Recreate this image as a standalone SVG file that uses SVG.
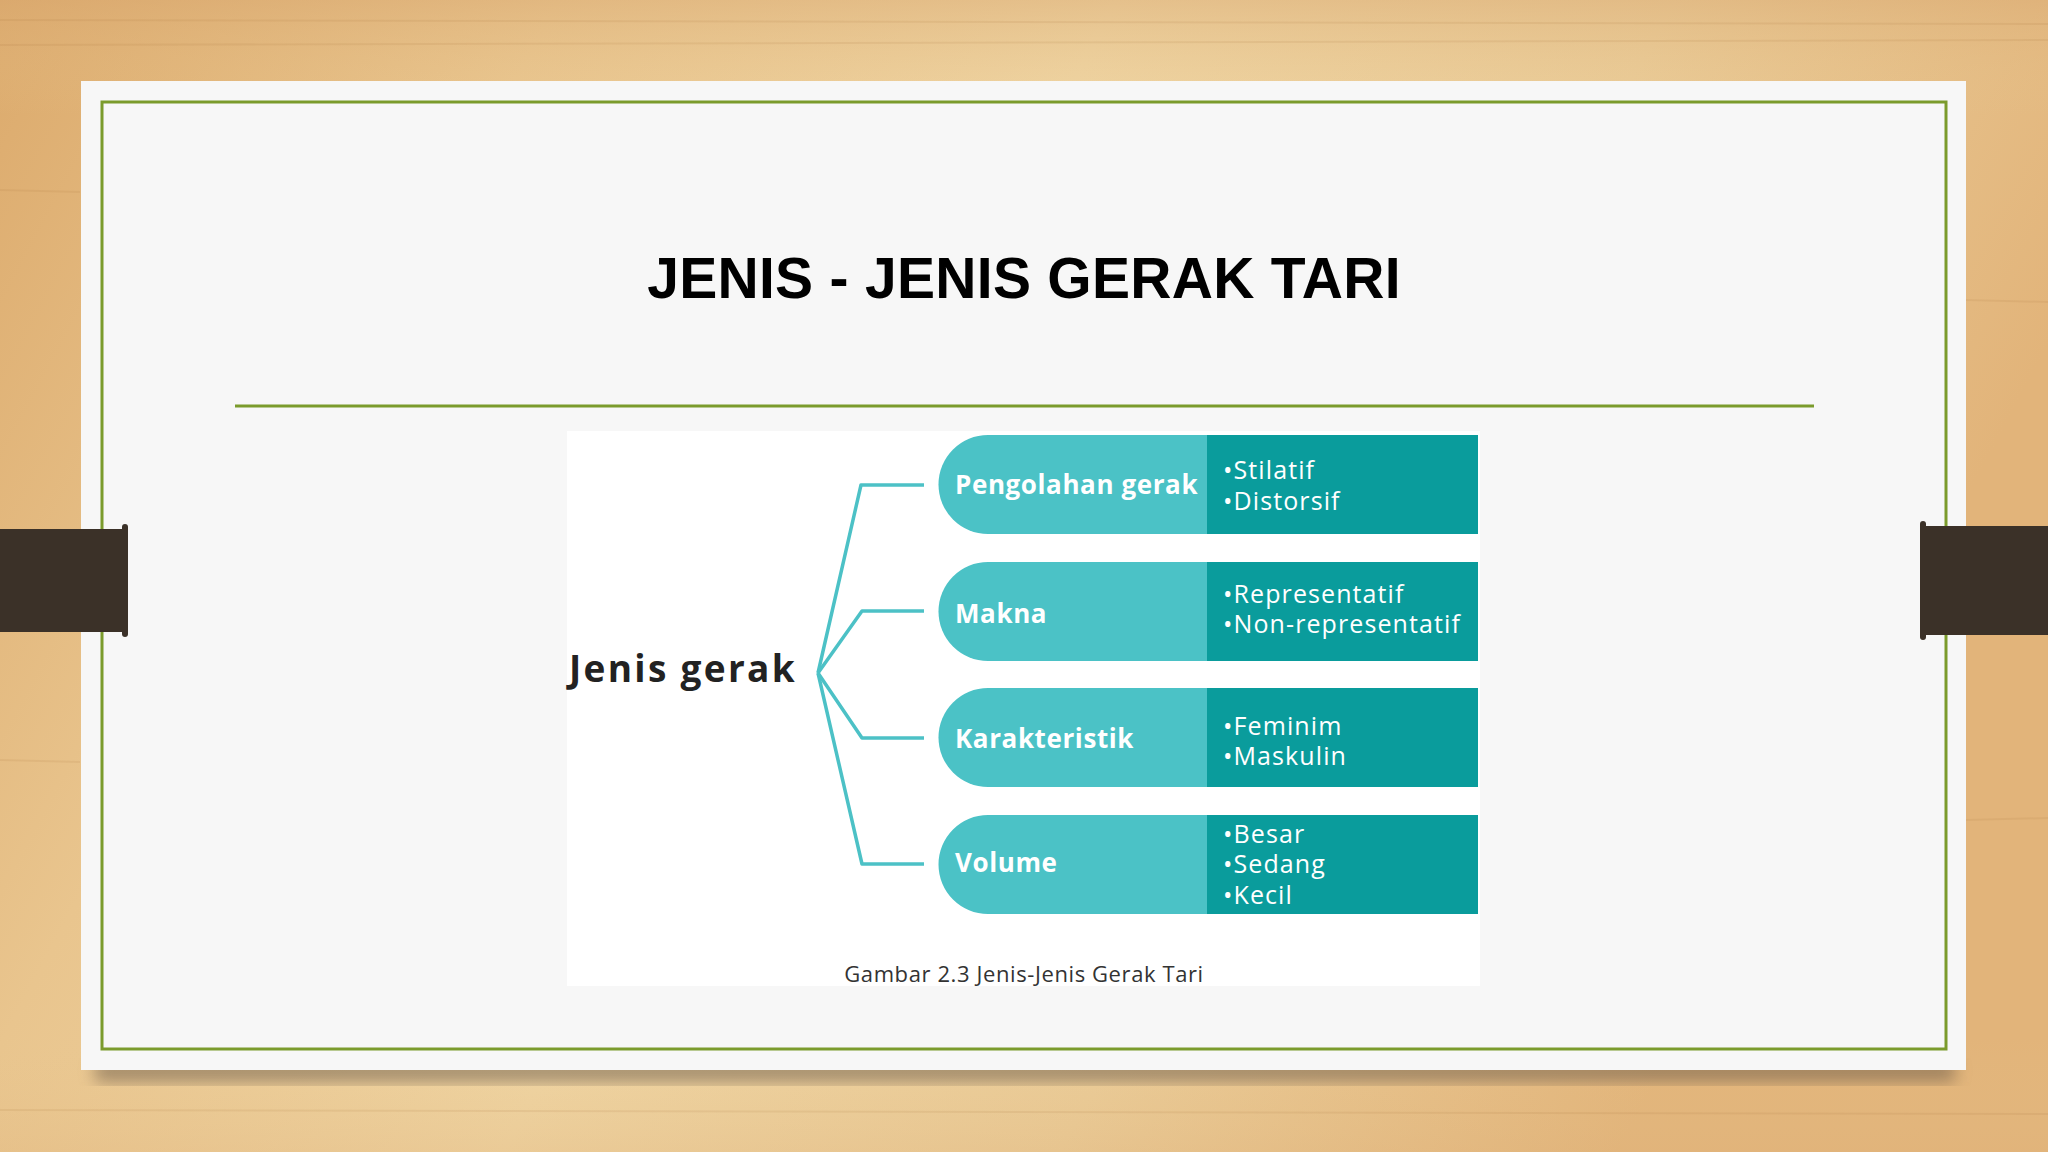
<svg xmlns="http://www.w3.org/2000/svg" width="2048" height="1152" viewBox="0 0 2048 1152">
<defs>
<linearGradient id="wood" x1="0" y1="0" x2="1" y2="0.3">
<stop offset="0" stop-color="#dcaa6c"/>
<stop offset="0.25" stop-color="#e9c58e"/>
<stop offset="0.5" stop-color="#efd4a2"/>
<stop offset="0.75" stop-color="#eacb97"/>
<stop offset="1" stop-color="#e2b47a"/>
</linearGradient>
<linearGradient id="woodv" x1="0" y1="0" x2="0" y2="1">
<stop offset="0" stop-color="#d9a870" stop-opacity="0.45"/>
<stop offset="0.1" stop-color="#e8c890" stop-opacity="0"/>
<stop offset="0.9" stop-color="#e8c890" stop-opacity="0"/>
<stop offset="1" stop-color="#e0b47c" stop-opacity="0.3"/>
</linearGradient>
<filter id="sh" x="-5%" y="-5%" width="110%" height="120%">
<feGaussianBlur stdDeviation="8"/>
</filter>
<style>
.tab{fill:#3b3128}
.border{fill:none;stroke:#7b9b2c;stroke-width:3}
.conn{fill:none;stroke:#4cc1c6;stroke-width:3.5;stroke-linejoin:round}
.pill{fill:#4bc2c6}
.box{fill:#0a9c9c}
.lbl{font-family:"Open Sans","DejaVu Sans",sans-serif;font-weight:700;font-size:26px;letter-spacing:0.6px;fill:#ffffff}
.item{font-family:"Open Sans","DejaVu Sans",sans-serif;font-size:25px;letter-spacing:1.1px;fill:#ffffff}
</style>
</defs>
<rect x="0" y="0" width="2048" height="1152" fill="url(#wood)"/>
<rect x="0" y="0" width="2048" height="1152" fill="url(#woodv)"/>
<g opacity="0.12" stroke="#a8743c" stroke-width="2">
<line x1="0" y1="20" x2="2048" y2="24"/>
<line x1="0" y1="45" x2="2048" y2="40"/>
<line x1="0" y1="190" x2="80" y2="192"/>
<line x1="0" y1="760" x2="80" y2="762"/>
<line x1="1966" y1="300" x2="2048" y2="302"/>
<line x1="1966" y1="820" x2="2048" y2="818"/>
<line x1="0" y1="1110" x2="2048" y2="1114"/>
</g>
<rect x="95" y="1060" width="1860" height="22" fill="#6b5a48" opacity="0.55" filter="url(#sh)"/>
<rect x="81" y="81" width="1885" height="989" fill="#f7f7f7"/>
<rect x="102" y="102" width="1844" height="947" class="border"/>
<line x1="235" y1="406" x2="1814" y2="406" stroke="#7b9b2c" stroke-width="3"/>
<g id="tab-left">
<rect x="0" y="529" width="126" height="103" class="tab"/>
<rect x="122" y="524" width="6" height="113" rx="3" class="tab"/>
</g>
<g id="tab-right">
<rect x="1922" y="526" width="126" height="109" class="tab"/>
<rect x="1920" y="521" width="6" height="119" rx="3" class="tab"/>
</g>
<text x="1024" y="298" text-anchor="middle" font-family="'Liberation Sans',Arial,sans-serif" font-weight="700" font-size="57" letter-spacing="0.3" fill="#000000">JENIS - JENIS GERAK TARI</text>
<rect x="567" y="431" width="913" height="555" fill="#ffffff"/>
<g id="root">
<text x="569" y="682" font-family="'Open Sans','DejaVu Sans',sans-serif" font-weight="700" font-size="37" letter-spacing="2.3" fill="#222222">Jenis gerak</text>
</g>
<g id="connectors">
<path class="conn" d="M818,673 L861,485 H924"/>
<path class="conn" d="M818,673 L862,611 H924"/>
<path class="conn" d="M818,673 L862,738 H924"/>
<path class="conn" d="M818,673 L862,864 H924"/>
</g>
<g id="node-pengolahan">
<path class="pill" d="M1207,435 H988 A49.5,49.5 0 0 0 988,534 H1207 Z"/>
<rect class="box" x="1207" y="435" width="271" height="99"/>
<text class="lbl" x="955" y="494">Pengolahan gerak</text>
<text class="item" x="1223" y="479">•Stilatif</text>
<text class="item" x="1223" y="510">•Distorsif</text>
</g>
<g id="node-makna">
<path class="pill" d="M1207,562 H988 A49.5,49.5 0 0 0 988,661 H1207 Z"/>
<rect class="box" x="1207" y="562" width="271" height="99"/>
<text class="lbl" x="955" y="623">Makna</text>
<text class="item" x="1223" y="603">•Representatif</text>
<text class="item" x="1223" y="633">•Non-representatif</text>
</g>
<g id="node-karakteristik">
<path class="pill" d="M1207,688 H988 A49.5,49.5 0 0 0 988,787 H1207 Z"/>
<rect class="box" x="1207" y="688" width="271" height="99"/>
<text class="lbl" x="955" y="748">Karakteristik</text>
<text class="item" x="1223" y="735">•Feminim</text>
<text class="item" x="1223" y="765">•Maskulin</text>
</g>
<g id="node-volume">
<path class="pill" d="M1207,815 H988 A49.5,49.5 0 0 0 988,914 H1207 Z"/>
<rect class="box" x="1207" y="815" width="271" height="99"/>
<text class="lbl" x="955" y="872">Volume</text>
<text class="item" x="1223" y="843">•Besar</text>
<text class="item" x="1223" y="873">•Sedang</text>
<text class="item" x="1223" y="904">•Kecil</text>
</g>
<text x="1024" y="982" text-anchor="middle" font-family="'Open Sans','DejaVu Sans',sans-serif" font-size="22" letter-spacing="0.6" fill="#333333">Gambar 2.3 Jenis-Jenis Gerak Tari</text>
</svg>
